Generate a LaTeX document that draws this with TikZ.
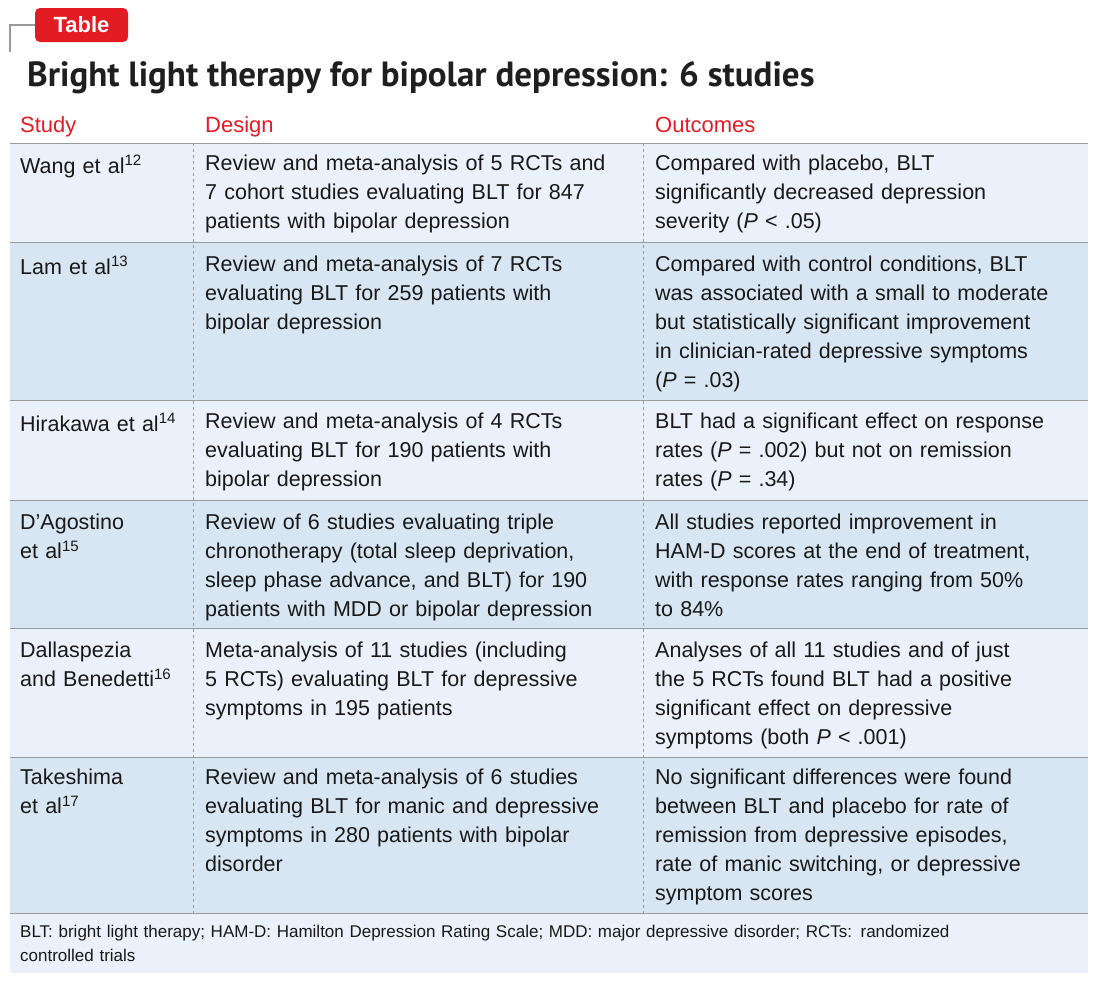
\documentclass[tikz,border=0pt]{standalone}
\usepackage{fontspec}
\setmainfont{Liberation Sans}
\newfontfamily\titlefont{PT Sans}
\definecolor{tagred}{HTML}{E31B23}
\definecolor{rowlight}{HTML}{EAF1FA}
\definecolor{rowdark}{HTML}{D8E6F3}
\definecolor{rulegray}{HTML}{9A9A9A}
\usetikzlibrary{positioning}
\tikzset{
  cell/.style={anchor=north west, inner sep=0pt, align=left,
    font=\fontsize{21.5}{29}\selectfont, text=black!90},
  head/.style={anchor=base west, inner sep=0pt,
    font=\fontsize{22}{29}\selectfont, text=tagred},
}
\begin{document}
\begin{tikzpicture}[x=1pt, y=-1pt]
\useasboundingbox (0,0) rectangle (1100,985);

% tag and title
\draw[rulegray, line width=2pt] (10,52) -- (10,25) -- (36,25);
\node[fill=tagred, rounded corners=5pt, minimum width=93pt, minimum height=34pt,
  inner sep=0pt, text=white, font=\fontsize{22}{26}\selectfont\bfseries] (tag) at (81.5,25) {Table};
\node[anchor=base west, inner sep=0pt, font=\titlefont\fontsize{35}{40}\selectfont\bfseries,
  text=black!88] (title) at (27,86) {Bright light therapy for bipolar depression: 6 studies};

% row backgrounds
\foreach \ytop/\ybot/\col in {143/242/rowlight, 242/400/rowdark, 400/500/rowlight,
  500/628/rowdark, 628/757/rowlight, 757/913/rowdark, 913/973/rowlight}
  \fill[\col] (10,\ytop) rectangle (1088,\ybot);
\foreach \y in {143, 242, 400, 500, 628, 757, 913}
  \draw[rulegray, line width=1pt] (10,\y) -- (1088,\y);
% column dividers
\foreach \x in {193, 643}
  \draw[rulegray, dash pattern=on 3pt off 3pt, line width=0.6pt] (\x,143) -- (\x,913);

% header
\node[head] (hstudy) at (20,132) {Study};
\node[head] (hdesign) at (205,132) {Design};
\node[head] (hout) at (655,132) {Outcomes};

% rows
\node[cell, text width=172pt] (s1) at (20,155) {Wang et al\textsuperscript{12}};
\node[cell, text width=440pt] (d1) at (205,155) {Review and meta-analysis of 5 RCTs and\\7 cohort studies evaluating BLT for 847\\patients with bipolar depression};
\node[cell, text width=432pt] (o1) at (655,155) {Compared with placebo, BLT\\significantly decreased depression\\severity (\textit{P} < .05)};

\node[cell, text width=172pt] (s2) at (20,256) {Lam et al\textsuperscript{13}};
\node[cell, text width=440pt] (d2) at (205,256) {Review and meta-analysis of 7 RCTs\\evaluating BLT for 259 patients with\\bipolar depression};
\node[cell, text width=432pt] (o2) at (655,256) {Compared with control conditions, BLT\\was associated with a small to moderate\\but statistically significant improvement\\in clinician-rated depressive symptoms\\(\textit{P} = .03)};

\node[cell, text width=172pt] (s3) at (20,413) {Hirakawa et al\textsuperscript{14}};
\node[cell, text width=440pt] (d3) at (205,413) {Review and meta-analysis of 4 RCTs\\evaluating BLT for 190 patients with\\bipolar depression};
\node[cell, text width=432pt] (o3) at (655,413) {BLT had a significant effect on response\\rates (\textit{P} = .002) but not on remission\\rates (\textit{P} = .34)};

\node[cell, text width=172pt] (s4) at (20,514) {D'Agostino\\et al\textsuperscript{15}};
\node[cell, text width=440pt] (d4) at (205,514) {Review of 6 studies evaluating triple\\chronotherapy (total sleep deprivation,\\sleep phase advance, and BLT) for 190\\patients with MDD or bipolar depression};
\node[cell, text width=432pt] (o4) at (655,514) {All studies reported improvement in\\HAM-D scores at the end of treatment,\\with response rates ranging from 50\%\\to 84\%};

\node[cell, text width=172pt] (s5) at (20,642) {Dallaspezia\\and Benedetti\textsuperscript{16}};
\node[cell, text width=440pt] (d5) at (205,642) {Meta-analysis of 11 studies (including\\5 RCTs) evaluating BLT for depressive\\symptoms in 195 patients};
\node[cell, text width=432pt] (o5) at (655,642) {Analyses of all 11 studies and of just\\the 5 RCTs found BLT had a positive\\significant effect on depressive\\symptoms (both \textit{P} < .001)};

\node[cell, text width=172pt] (s6) at (20,769) {Takeshima\\et al\textsuperscript{17}};
\node[cell, text width=440pt] (d6) at (205,769) {Review and meta-analysis of 6 studies\\evaluating BLT for manic and depressive\\symptoms in 280 patients with bipolar\\disorder};
\node[cell, text width=432pt] (o6) at (655,769) {No significant differences were found\\between BLT and placebo for rate of\\remission from depressive episodes,\\rate of manic switching, or depressive\\symptom scores};

% footnote
\node[cell, text width=1060pt, font=\fontsize{17}{24}\selectfont] (foot) at (20,925) {BLT: bright light therapy; HAM-D: Hamilton Depression Rating Scale; MDD: major depressive disorder; RCTs: randomized\\controlled trials};
\end{tikzpicture}
\end{document}
